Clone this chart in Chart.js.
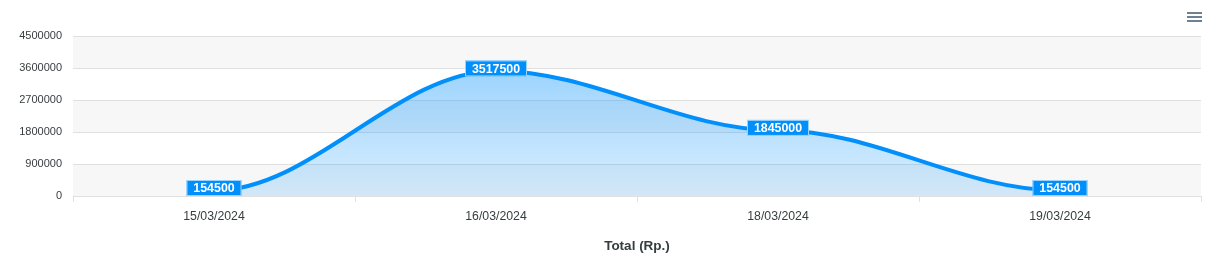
<!DOCTYPE html>
<html>
<head>
<meta charset="utf-8">
<script src="https://cdn.jsdelivr.net/npm/chart.js@4"></script>
<style>
  html, body { margin: 0; padding: 0; background: #fff; }
  #wrap { width: 1228px; height: 268px; position: relative; }
</style>
</head>
<body>
<div id="wrap"><canvas id="grafico" width="1228" height="268"></canvas></div>
<script>
const tanggal = ["15/03/2024", "16/03/2024", "18/03/2024", "19/03/2024"];
const total = [154500, 3517500, 1845000, 154500];
const yMax = 4500000;
const yStep = 900000;

const biru = "#008FFB";
const fontFamily = "'Liberation Sans', Arial, Helvetica, sans-serif";
const ctx = document.getElementById("grafico").getContext("2d");

// alternating row bands behind the plot
const bandPlugin = {
    id: "bands",
    beforeDraw(chart) {
        const { ctx, chartArea, scales } = chart;
        const y = scales.y;
        ctx.save();
        let i = 0;
        for (let v = yMax; v > 0; v -= yStep) {
            if (i % 2 === 0) {
                const top = y.getPixelForValue(v);
                const bottom = y.getPixelForValue(v - yStep);
                ctx.fillStyle = "#f7f7f7";
                ctx.fillRect(chartArea.left, top, chartArea.right - chartArea.left, bottom - top);
            }
            i++;
        }
        ctx.restore();
    }
};

// smooth curve with flat tangents at each point
const kurvaPlugin = {
    id: "kurva",
    beforeDatasetsDraw(chart) {
        const meta = chart.getDatasetMeta(0);
        meta.dataset.updateControlPoints(chart.chartArea, "x");
        const pts = meta.data;
        pts.forEach((p, i) => {
            const prev = pts[i - 1];
            const next = pts[i + 1];
            p.cp1x = prev ? p.x - (p.x - prev.x) * 0.35 : p.x;
            p.cp1y = p.y;
            p.cp2x = next ? p.x + (next.x - p.x) * 0.35 : p.x;
            p.cp2y = p.y;
        });
    }
};

// boxed value labels on each point
const labelPlugin = {
    id: "labelKotak",
    afterDatasetsDraw(chart) {
        const { ctx } = chart;
        const meta = chart.getDatasetMeta(0);
        ctx.save();
        ctx.font = "bold 12.4px " + fontFamily;
        ctx.textAlign = "center";
        ctx.textBaseline = "middle";
        meta.data.forEach((pt, i) => {
            const teks = String(total[i]);
            const w = Math.round(ctx.measureText(teks).width + 14);
            const h = 16;
            const cx = Math.round(pt.x);
            const cy = pt.y - 2.5;
            ctx.fillStyle = biru;
            ctx.fillRect(cx - w / 2, cy - h / 2, w, h);
            ctx.strokeStyle = "rgba(255,255,255,0.6)";
            ctx.lineWidth = 1;
            ctx.strokeRect(cx - w / 2 + 0.5, cy - h / 2 + 0.5, w - 1, h - 1);
            ctx.fillStyle = "#fff";
            ctx.fillText(teks, cx, cy + 1);
        });
        ctx.restore();
    }
};

// hamburger menu icon top right
const menuPlugin = {
    id: "menu",
    afterDraw(chart) {
        const { ctx } = chart;
        ctx.save();
        ctx.strokeStyle = "#6e8192";
        ctx.lineWidth = 2;
        [13, 17, 21].forEach(yy => {
            ctx.beginPath();
            ctx.moveTo(1187, yy);
            ctx.lineTo(1202, yy);
            ctx.stroke();
        });
        ctx.restore();
    }
};

new Chart(ctx, {
    type: "line",
    data: {
        labels: tanggal,
        datasets: [{
            label: "Total (Rp.)",
            data: total,
            borderColor: biru,
            borderWidth: 4,
            cubicInterpolationMode: "monotone",
            pointRadius: 0,
            fill: true,
            backgroundColor(context) {
                const area = context.chart.chartArea;
                if (!area) return "rgba(0,143,251,0.3)";
                const g = context.chart.ctx.createLinearGradient(0, area.top, 0, area.bottom);
                g.addColorStop(0, "rgba(0,143,251,0.45)");
                g.addColorStop(1, "rgba(0,143,251,0.15)");
                return g;
            }
        }]
    },
    options: {
        responsive: false,
        animation: false,
        layout: { padding: { top: 36, right: 27, bottom: 0, left: 0 } },
        plugins: {
            legend: { display: false },
            tooltip: { enabled: false }
        },
        scales: {
            x: {
                offset: true,
                grid: {
                    offset: true,
                    drawOnChartArea: false,
                    drawTicks: true,
                    tickLength: 6,
                    color: "#e0e0e0"
                },
                border: { color: "#e0e0e0", width: 1 },
                ticks: {
                    color: "#373d3f",
                    font: { family: fontFamily, size: 12.3 },
                    padding: 7,
                    maxRotation: 0
                },
                title: {
                    display: true,
                    text: "Total (Rp.)",
                    color: "#373d3f",
                    font: { family: fontFamily, size: 13.5, weight: "bold" },
                    padding: { top: 0, bottom: 14 }
                },
                afterFit(scale) { scale.height = 72; }
            },
            y: {
                min: 0,
                max: yMax,
                grid: { color: "#e0e0e0", drawTicks: false },
                border: { display: false },
                ticks: {
                    stepSize: yStep,
                    color: "#373d3f",
                    font: { family: fontFamily, size: 11 },
                    padding: 11,
                    callback: v => String(v)
                },
                afterFit(scale) { scale.width = 73; }
            }
        }
    },
    plugins: [bandPlugin, kurvaPlugin, labelPlugin, menuPlugin]
});
</script>
</body>
</html>
